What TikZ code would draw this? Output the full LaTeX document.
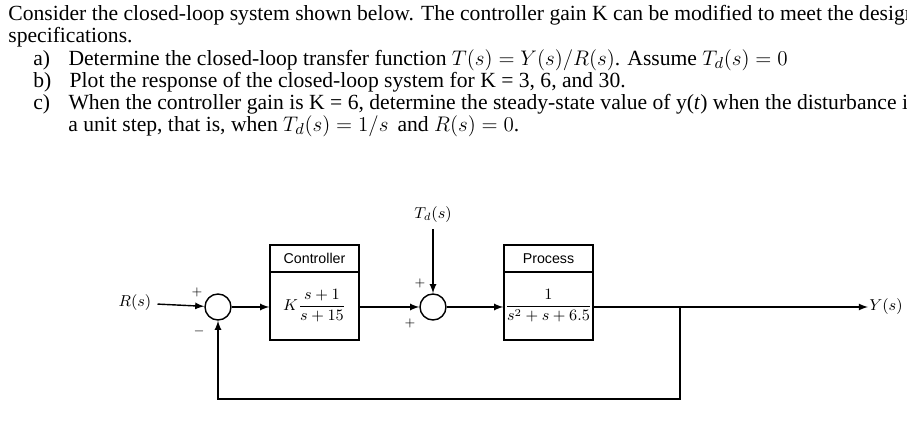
\documentclass[tikz,border=0pt]{standalone}
\usepackage{amsmath}
\usepackage{fontspec}
\setmainfont{Liberation Serif}
\newfontfamily\blocksf{Liberation Sans}[Scale=0.9]
\usetikzlibrary{positioning}

\tikzset{
  txt/.style={anchor=west,inner sep=0pt,font=\fontsize{12.3}{14}\selectfont},
  sumj/.style={circle,draw,thick,minimum size=0.52cm,inner sep=0pt},
  blktitle/.style={rectangle,draw,thick,minimum width=1.78cm,minimum height=0.54cm,inner sep=0pt,font=\blocksf\small},
  blkbody/.style={rectangle,draw,thick,minimum width=1.78cm,minimum height=1.36cm,inner sep=0pt,font=\small},
  sig/.style={font=\small},
  sgn/.style={font=\scriptsize,inner sep=0pt},
  flow/.style={thick,-latex}
}

\begin{document}
\begin{tikzpicture}[x=0.02cm,y=-0.02cm]
  \useasboundingbox (0,0) rectangle (907,442);
  % problem text
  \node[txt] (l1) at (8,15)  {Consider the closed-loop system shown below. The controller gain K can be modified to meet the design};
  \node[txt] (l2) at (8,37)  {specifications.};
  \node[txt] (l3) at (33,60) {a)\hspace{0.6em} Determine the closed-loop transfer function $T(s)=Y(s)/R(s)$. Assume $T_d(s)=0$};
  \node[txt] (l4) at (33,82) {b)\hspace{0.6em} Plot the response of the closed-loop system for K = 3, 6, and 30.};
  \node[txt] (l5) at (33,104) {c)\hspace{0.6em} When the controller gain is K = 6, determine the steady-state value of y(\textit{t}) when the disturbance is};
  \node[txt] (l6) at (68,126) {a unit step, that is, when $T_d(s)=1/s$\, and $R(s)=0$.};

  % block diagram
  \node[sig]  (R)   at (135,303) {$R(s)$};
  \node[sumj] (s1)  at (218,307) {};
  \node[blktitle] (ctrlT) at (314.5,258.5) {Controller};
  \node[blkbody]  (ctrl)  at (314.5,306) {$K\dfrac{s+1}{s+15}$};
  \node[sumj] (s2)  at (433,307) {};
  \node[sig]  (Td)  at (433,215) {$T_d(s)$};
  \node[blktitle] (procT) at (548.5,258.5) {Process};
  \node[blkbody]  (proc)  at (548.5,306) {$\dfrac{1}{s^2+s+6.5}$};
  \node[sig]  (Y)   at (886,307) {$Y(s)$};
  \coordinate (yend)  at (868,307);
  \coordinate (br)    at (680,307);
  \coordinate (fbR)   at (680,399);
  \coordinate (fbL)   at (218,399);

  \draw[flow] (R) -- (s1);
  \draw[flow] (s1) -- (ctrl.west |- s1);
  \draw[flow] (ctrl.east |- s2) -- (s2);
  \draw[flow] (Td) -- (s2);
  \draw[flow] (s2) -- (proc.west |- s2);
  \draw[flow] (proc.east |- br) -- (yend);
  \draw[flow] (br) -- (fbR) -- (fbL) -- (s1);

  % signs
  \node[sgn] at (197,292) {$+$};
  \node[sgn] at (199,331) {$-$};
  \node[sgn] at (420,283) {$+$};
  \node[sgn] at (410,323) {$+$};
\end{tikzpicture}
\end{document}
